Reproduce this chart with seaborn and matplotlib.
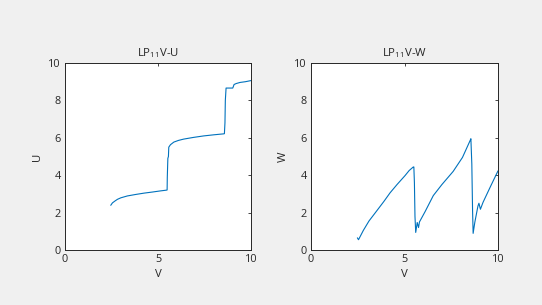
import matplotlib
matplotlib.use("Agg")
import matplotlib.pyplot as plt
import seaborn as sns
import pandas as pd

# LP11 V-U data
v_u = [2.46, 2.55, 2.7, 2.82, 3.0, 3.35, 3.8, 4.24, 4.7, 5.13, 5.45, 5.49, 5.50, 5.53, 5.56, 5.58,
       5.67, 5.85, 6.1, 6.38, 6.9, 7.45, 8.0, 8.52, 8.57, 8.60, 8.62, 8.66, 9.02, 9.09, 9.2, 9.41, 9.7, 10.0]
u_vals = [2.39, 2.52, 2.63, 2.71, 2.79, 2.89, 2.97, 3.04, 3.10, 3.16, 3.20, 3.21, 3.9, 4.9, 5.0, 5.5,
          5.63, 5.77, 5.86, 5.93, 6.02, 6.10, 6.16, 6.21, 6.22, 6.8, 8.0, 8.66, 8.66, 8.85, 8.90, 8.96, 9.0, 9.06]

# LP11 V-W data
v_w = [2.48, 2.54, 2.8, 3.1, 3.52, 3.9, 4.23, 4.6, 5.03, 5.25, 5.47, 5.50, 5.53, 5.56, 5.60, 5.68, 5.75, 5.80,
       6.1, 6.54, 7.0, 7.6, 8.1, 8.53, 8.55, 8.60, 8.64, 8.67, 8.76, 8.86, 8.93, 8.98, 9.06, 9.2, 9.6, 10.0]
w_vals = [0.65, 0.55, 1.05, 1.55, 2.1, 2.6, 3.06, 3.5, 3.98, 4.25, 4.44, 4.44, 3.6, 1.8, 0.94, 1.47, 1.2, 1.5,
          2.05, 2.91, 3.5, 4.2, 4.95, 5.9, 5.95, 4.6, 2.1, 0.89, 1.48, 2.0, 2.36, 2.5, 2.18, 2.55, 3.4, 4.23]

bg = "#F0F0F0"
line_color = "#0072BD"

sns.set_style("white")
plt.rcParams["font.family"] = ["Open Sans", "DejaVu Sans"]
plt.rcParams["mathtext.fontset"] = "custom"
plt.rcParams["mathtext.rm"] = "Open Sans"
plt.rcParams["mathtext.it"] = "Open Sans"

fig = plt.figure(figsize=(5.42, 3.05), dpi=100, facecolor=bg)
ax1 = fig.add_axes([65 / 542, 1 - 250 / 305, 186 / 542, 187 / 305])
ax2 = fig.add_axes([311 / 542, 1 - 250 / 305, 187 / 542, 187 / 305])

df_u = pd.DataFrame({"V": v_u, "U": u_vals})
df_w = pd.DataFrame({"V": v_w, "W": w_vals})

sns.lineplot(data=df_u, x="V", y="U", ax=ax1, sort=False, estimator=None, color=line_color, linewidth=0.8)
sns.lineplot(data=df_w, x="V", y="W", ax=ax2, sort=False, estimator=None, color=line_color, linewidth=0.8)

for ax, title, ylab in [(ax1, r"LP$_{\mathrm{11}}$V-U", "U"), (ax2, r"LP$_{\mathrm{11}}$V-W", "W")]:
    ax.set_xlim(0, 10)
    ax.set_ylim(0, 10)
    ax.set_xticks([0, 5, 10])
    ax.set_yticks([0, 2, 4, 6, 8, 10])
    ax.set_facecolor("white")
    ax.set_title(title, fontsize=8.2, color="#262626", pad=5)
    ax.set_xlabel("V", fontsize=8.2, color="#262626", labelpad=3)
    ax.set_ylabel(ylab, fontsize=8.2, color="#262626", labelpad=4)
    ax.tick_params(direction="in", length=2.5, width=0.6, labelsize=7.8, colors="#262626",
                   top=True, right=True, pad=3)
    for s in ax.spines.values():
        s.set_visible(True)
        s.set_color("#262626")
        s.set_linewidth(0.7)

fig.savefig("out.png", dpi=100, facecolor=bg)
